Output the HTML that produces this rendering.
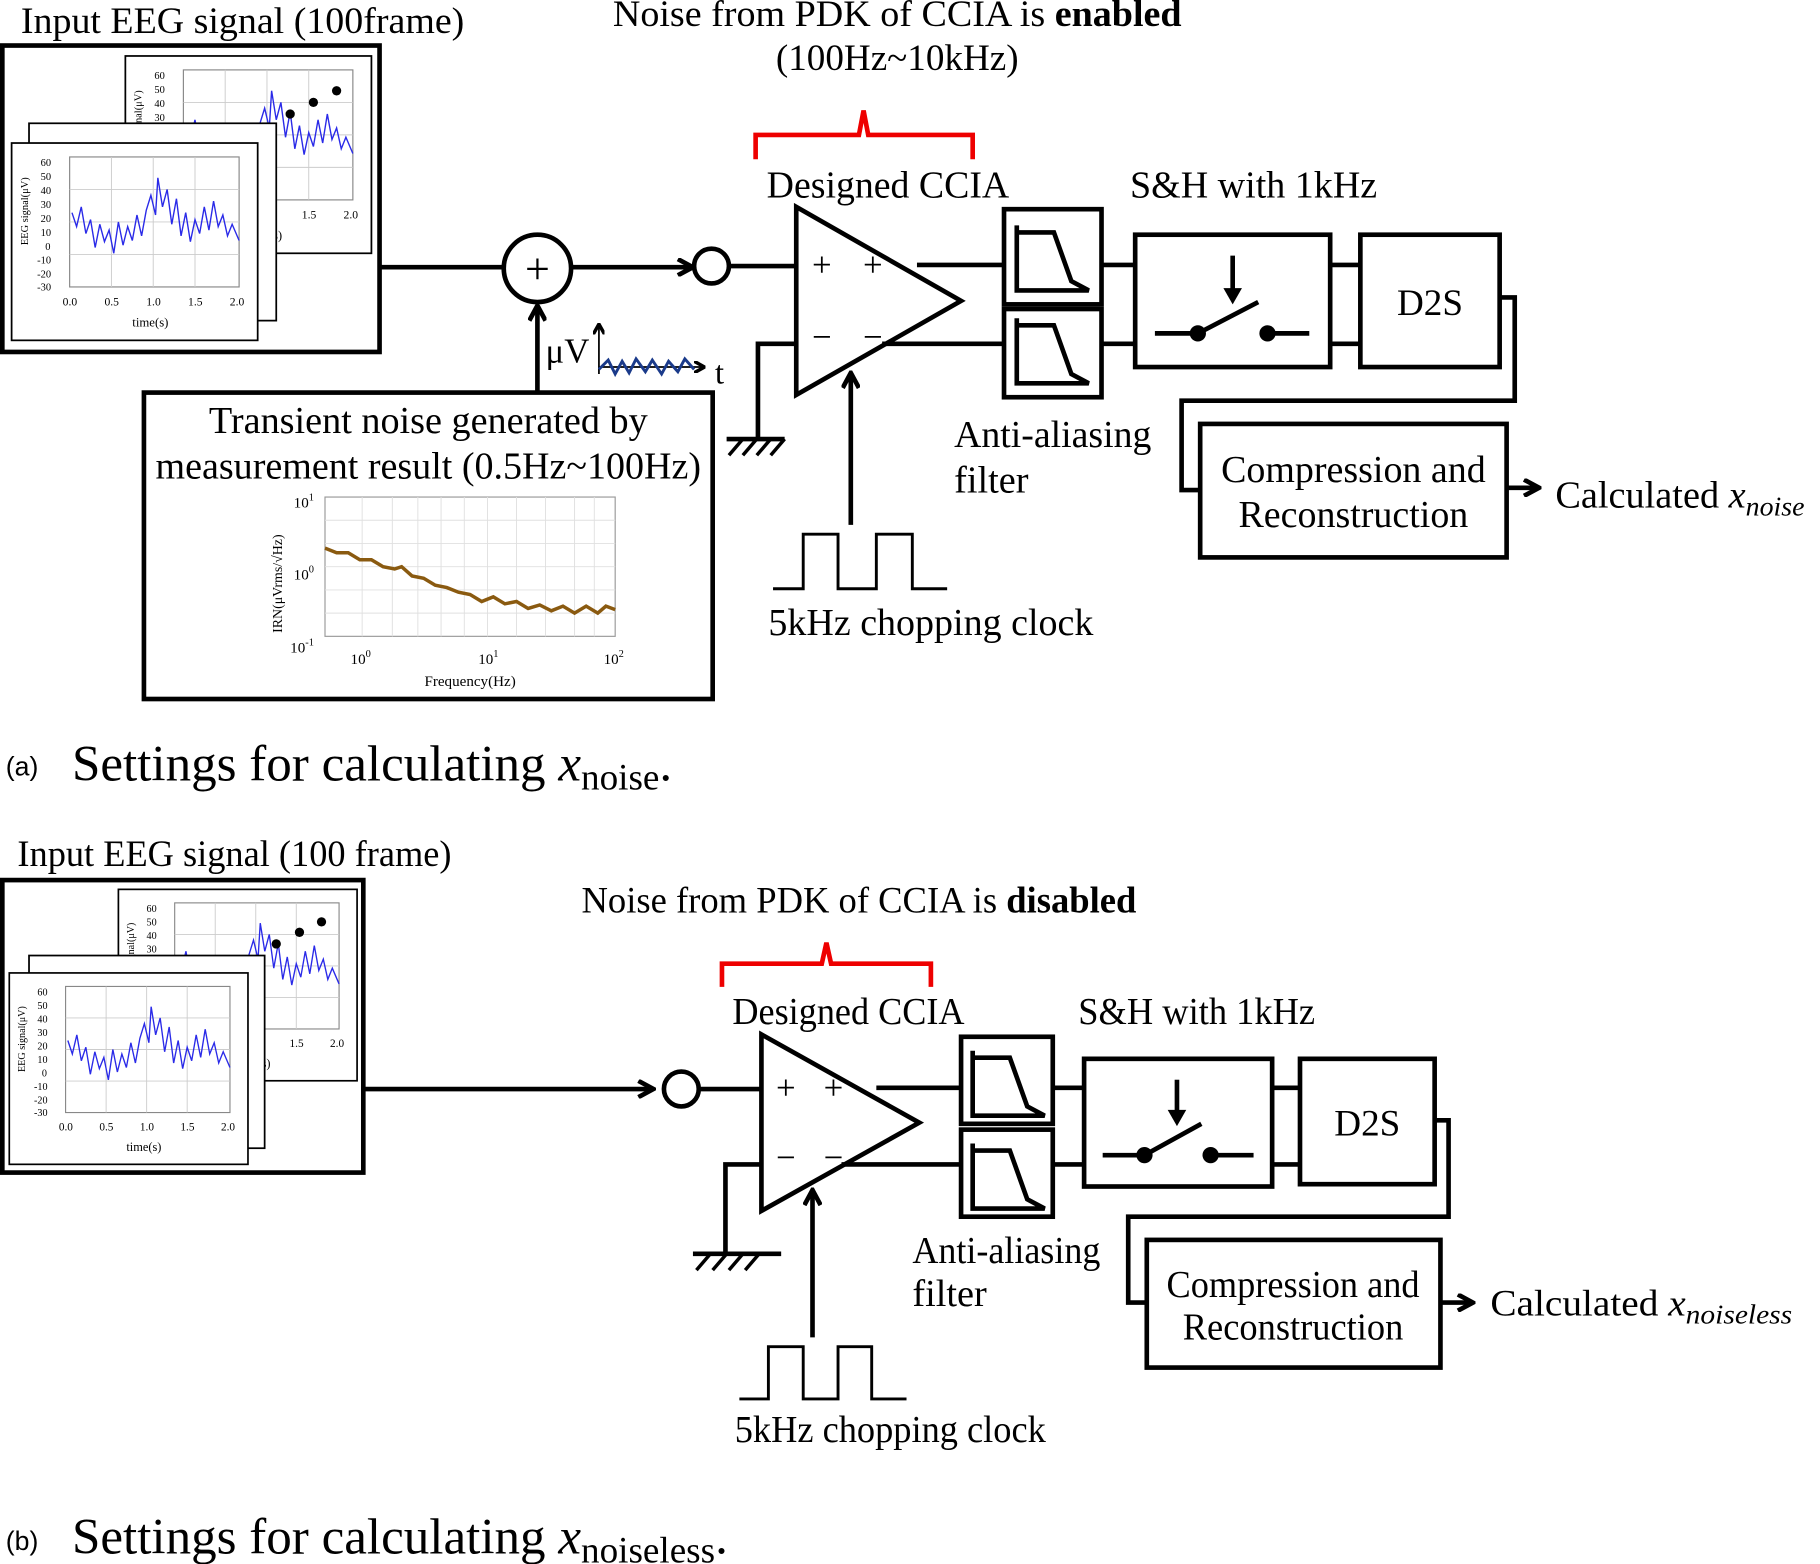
<!DOCTYPE html>
<html><head><meta charset="utf-8"><style>
html,body{margin:0;padding:0;background:#fff;}
svg{display:block;}
text{font-family:"Liberation Serif",serif;fill:#000;}
.s{font-family:"Liberation Sans",sans-serif;}
</style></head><body>
<svg width="1820" height="1564" viewBox="0 0 1568 1347" xmlns="http://www.w3.org/2000/svg">
<defs>
<marker id="ar" markerWidth="10" markerHeight="10" refX="8" refY="5" orient="auto" markerUnits="userSpaceOnUse"><path d="M0,0 L9,5 L0,10" fill="none" stroke="#000" stroke-width="3"/></marker>
<marker id="ab" markerWidth="16" markerHeight="16" refX="13" refY="8" orient="auto" markerUnits="userSpaceOnUse"><path d="M1,1 L14,8 L1,15" fill="none" stroke="#000" stroke-width="4"/></marker>
<g id="lp"><path d="M8,8 V64 H70 L55,56 L40,14 H8" fill="none" stroke="#000" stroke-width="4"/></g>
<g id="plot">
<rect x="0" y="0" width="212" height="170" fill="#fff" stroke="#000" stroke-width="1.5"/>
<rect x="50" y="12" width="146" height="112" fill="none" stroke="#888" stroke-width="1"/>
<path d="M50,40H196M50,68H196M50,96H196M86,12V124M122,12V124M158,12V124" stroke="#ccc" stroke-width="0.8"/>
<polyline fill="none" stroke="#2a2ae8" stroke-width="1.2" points="52,60 56,72 60,55 64,78 68,66 72,90 76,70 80,85 84,75 88,95 92,68 96,88 100,72 104,84 108,62 112,80 116,58 120,45 124,62 126,30 130,55 134,40 138,70 142,48 146,80 150,60 154,85 158,66 162,78 166,55 170,75 174,50 178,72 182,62 186,80 190,70 196,84"/>
<text x="6" y="80" font-size="9" transform="rotate(-90 14 80)">EEG signal(μV)</text>
<text x="25" y="20" font-size="9">60</text><text x="25" y="32" font-size="9">50</text><text x="25" y="44" font-size="9">40</text><text x="25" y="56" font-size="9">30</text><text x="25" y="68" font-size="9">20</text><text x="25" y="80" font-size="9">10</text><text x="29" y="92" font-size="9">0</text><text x="22" y="104" font-size="9">-10</text><text x="22" y="116" font-size="9">-20</text><text x="22" y="127" font-size="9">-30</text>
<text x="44" y="140" font-size="10">0.0</text><text x="80" y="140" font-size="10">0.5</text><text x="116" y="140" font-size="10">1.0</text><text x="152" y="140" font-size="10">1.5</text><text x="188" y="140" font-size="10">2.0</text>
<text x="104" y="158" font-size="11">time(s)</text>
</g>
</defs>

<!-- ===== (a) ===== -->
<text x="18" y="28" font-size="32" textLength="382" lengthAdjust="spacingAndGlyphs">Input EEG signal (100frame)</text>
<rect x="2" y="39" width="325" height="264" fill="#fff" stroke="#000" stroke-width="4"/>
<use href="#plot" x="108" y="48"/>
<circle cx="250" cy="98" r="4"/><circle cx="270" cy="88" r="4"/><circle cx="290" cy="78" r="4"/>
<rect x="25" y="106" width="213" height="170" fill="#fff" stroke="#000" stroke-width="1.5"/>
<use href="#plot" x="10" y="123"/>

<line x1="327" y1="230" x2="434" y2="230" stroke="#000" stroke-width="4"/>
<circle cx="463" cy="231" r="29" fill="#fff" stroke="#000" stroke-width="4"/>
<text x="463" y="244" font-size="38" text-anchor="middle">+</text>
<line x1="492" y1="230" x2="596" y2="230" stroke="#000" stroke-width="4" marker-end="url(#ab)"/>
<circle cx="613" cy="229" r="15" fill="#fff" stroke="#000" stroke-width="4"/>
<line x1="628" y1="229" x2="686" y2="229" stroke="#000" stroke-width="4"/>
<polygon points="686,178 686,340 828,259" fill="#fff" stroke="#000" stroke-width="4"/>
<text x="708" y="238" font-size="30" text-anchor="middle">+</text><text x="752" y="238" font-size="30" text-anchor="middle">+</text>
<text x="708" y="300" font-size="30" text-anchor="middle">−</text><text x="752" y="300" font-size="30" text-anchor="middle">−</text>
<line x1="790" y1="228" x2="866" y2="228" stroke="#000" stroke-width="4"/>
<line x1="760" y1="296" x2="866" y2="296" stroke="#000" stroke-width="4"/>
<polyline points="686,296 653,296 653,378" fill="none" stroke="#000" stroke-width="4"/>
<line x1="626" y1="378" x2="676" y2="378" stroke="#000" stroke-width="4"/>
<path d="M640,378 l-12,14 M652,378 l-12,14 M664,378 l-12,14 M676,378 l-12,14" stroke="#000" stroke-width="3"/>
<line x1="733" y1="452" x2="733" y2="322" stroke="#000" stroke-width="4" marker-end="url(#ab)"/>
<polyline points="666,507 692,507 692,460 722,460 722,507 755,507 755,460 786,460 786,507 816,507" fill="none" stroke="#000" stroke-width="2.5"/>
<rect x="865" y="180" width="84" height="82" fill="#fff" stroke="#000" stroke-width="4"/>
<rect x="865" y="266" width="84" height="76" fill="#fff" stroke="#000" stroke-width="4"/>
<use href="#lp" x="868" y="186"/><use href="#lp" x="868" y="266"/>
<line x1="949" y1="228" x2="978" y2="228" stroke="#000" stroke-width="4"/>
<line x1="949" y1="296" x2="978" y2="296" stroke="#000" stroke-width="4"/>
<rect x="978" y="202" width="168" height="114" fill="#fff" stroke="#000" stroke-width="4"/>
<line x1="995" y1="287" x2="1032" y2="287" stroke="#000" stroke-width="4"/>
<line x1="1032" y1="287" x2="1084" y2="260" stroke="#000" stroke-width="4"/>
<line x1="1092" y1="287" x2="1128" y2="287" stroke="#000" stroke-width="4"/>
<circle cx="1032" cy="287" r="7"/><circle cx="1092" cy="287" r="7"/>
<line x1="1062" y1="220" x2="1062" y2="258" stroke="#000" stroke-width="4"/>
<path d="M1054,248 L1062,262 L1070,248 Z"/>
<line x1="1146" y1="228" x2="1172" y2="228" stroke="#000" stroke-width="4"/>
<line x1="1146" y1="296" x2="1172" y2="296" stroke="#000" stroke-width="4"/>
<rect x="1172" y="202" width="120" height="114" fill="#fff" stroke="#000" stroke-width="4"/>
<text x="1232" y="271" font-size="32" text-anchor="middle">D2S</text>
<polyline points="1292,256 1305,256 1305,345 1018,345 1018,422 1034,422" fill="none" stroke="#000" stroke-width="4"/>
<rect x="1034" y="365" width="264" height="115" fill="#fff" stroke="#000" stroke-width="4"/>
<text x="1166" y="415" font-size="33" text-anchor="middle" textLength="228" lengthAdjust="spacingAndGlyphs">Compression and</text>
<text x="1166" y="454" font-size="33" text-anchor="middle" textLength="198" lengthAdjust="spacingAndGlyphs">Reconstruction</text>
<line x1="1298" y1="420" x2="1325" y2="420" stroke="#000" stroke-width="4" marker-end="url(#ab)"/>
<text x="1340" y="437" font-size="33">Calculated <tspan font-style="italic">x</tspan><tspan font-style="italic" font-size="24" dy="7">noise</tspan></text>
<path d="M651,137 V116 H740 L744,95 L748,116 H838 V137" fill="none" stroke="#e00" stroke-width="4"/>
<text x="773" y="22" font-size="32" text-anchor="middle" textLength="490" lengthAdjust="spacingAndGlyphs">Noise from PDK of CCIA is <tspan font-weight="bold">enabled</tspan></text>
<text x="773" y="60" font-size="32" text-anchor="middle">(100Hz~10kHz)</text>
<text x="765" y="170" font-size="33" text-anchor="middle" textLength="209" lengthAdjust="spacingAndGlyphs">Designed CCIA</text>
<text x="1080" y="170" font-size="33" text-anchor="middle" textLength="213" lengthAdjust="spacingAndGlyphs">S&amp;H with 1kHz</text>
<text x="822" y="385" font-size="33" textLength="170" lengthAdjust="spacingAndGlyphs">Anti-aliasing</text>
<text x="822" y="424" font-size="33">filter</text>
<text x="802" y="547" font-size="33" text-anchor="middle" textLength="280" lengthAdjust="spacingAndGlyphs">5kHz chopping clock</text>

<line x1="463" y1="338" x2="463" y2="264" stroke="#000" stroke-width="4" marker-end="url(#ab)"/>
<text x="470" y="312" font-size="30">μV</text>
<line x1="516" y1="322" x2="516" y2="280" stroke="#000" stroke-width="1.5" marker-end="url(#ar)"/>
<line x1="516" y1="316" x2="606" y2="316" stroke="#000" stroke-width="1.5" marker-end="url(#ar)"/>
<polyline points="516,318 524,310 530,322 536,311 542,321 548,309 556,320 562,310 570,322 576,311 584,320 590,309 598,318" fill="none" stroke="#1a3a8a" stroke-width="2.5"/>
<text x="616" y="330" font-size="28">t</text>
<rect x="124" y="338" width="490" height="264" fill="#fff" stroke="#000" stroke-width="4"/>
<text x="369" y="373" font-size="33" text-anchor="middle" textLength="378" lengthAdjust="spacingAndGlyphs">Transient noise generated by</text>
<text x="369" y="412" font-size="33" text-anchor="middle" textLength="470" lengthAdjust="spacingAndGlyphs">measurement result (0.5Hz~100Hz)</text>
<rect x="280" y="428" width="250" height="120" fill="#fff" stroke="#999" stroke-width="1"/>
<path d="M280,448H530M280,468H530M280,488H530M280,508H530M280,528H530M312,428V548M338,428V548M360,428V548M380,428V548M400,428V548M420,428V548M445,428V548M470,428V548M495,428V548M512,428V548" stroke="#e0e0e0" stroke-width="0.8"/>
<polyline points="280,472 290,476 300,476 310,482 320,482 330,488 340,490 346,488 355,496 365,498 375,504 385,506 395,510 405,512 415,518 425,514 435,520 445,518 455,524 465,521 475,526 485,522 495,528 505,522 515,528 522,522 530,525" fill="none" stroke="#8a5a10" stroke-width="3"/>
<text x="253" y="437" font-size="13">10<tspan font-size="9" dy="-6">1</tspan></text>
<text x="253" y="499" font-size="13">10<tspan font-size="9" dy="-6">0</tspan></text>
<text x="250" y="562" font-size="13">10<tspan font-size="9" dy="-6">-1</tspan></text>
<text x="302" y="572" font-size="13">10<tspan font-size="9" dy="-6">0</tspan></text>
<text x="412" y="572" font-size="13">10<tspan font-size="9" dy="-6">1</tspan></text>
<text x="520" y="572" font-size="13">10<tspan font-size="9" dy="-6">2</tspan></text>
<text x="405" y="591" font-size="13" text-anchor="middle">Frequency(Hz)</text>
<text x="243" y="545" font-size="12" transform="rotate(-90 243 545)">IRN(μVrms/√Hz)</text>

<text x="5" y="668" font-size="23" class="s">(a)</text>
<text x="62" y="672" font-size="44">Settings for calculating <tspan font-style="italic">x</tspan><tspan font-size="32" dy="8">noise</tspan><tspan dy="-8">.</tspan></text>

<!-- ===== (b) ===== -->
<text x="15" y="746" font-size="32" textLength="374" lengthAdjust="spacingAndGlyphs">Input EEG signal (100 frame)</text>
<rect x="2" y="758" width="311" height="252" fill="#fff" stroke="#000" stroke-width="4"/>
<use href="#plot" x="102" y="766" transform="translate(102 766) scale(0.97) translate(-102 -766)"/>
<circle cx="238" cy="813" r="4"/><circle cx="258" cy="803" r="4"/><circle cx="277" cy="794" r="4"/>
<rect x="25" y="823" width="203" height="166" fill="#fff" stroke="#000" stroke-width="1.5"/>
<g transform="translate(8 838) scale(0.97)"><use href="#plot"/></g>

<line x1="313" y1="938" x2="562" y2="938" stroke="#000" stroke-width="4" marker-end="url(#ab)"/>
<circle cx="587" cy="938" r="15" fill="#fff" stroke="#000" stroke-width="4"/>
<line x1="602" y1="938" x2="656" y2="938" stroke="#000" stroke-width="4"/>
<polygon points="656,891 656,1043 792,967" fill="#fff" stroke="#000" stroke-width="4"/>
<text x="677" y="947" font-size="30" text-anchor="middle">+</text><text x="718" y="947" font-size="30" text-anchor="middle">+</text>
<text x="677" y="1007" font-size="30" text-anchor="middle">−</text><text x="718" y="1007" font-size="30" text-anchor="middle">−</text>
<line x1="755" y1="937" x2="829" y2="937" stroke="#000" stroke-width="4"/>
<line x1="725" y1="1003" x2="829" y2="1003" stroke="#000" stroke-width="4"/>
<polyline points="656,1003 625,1003 625,1080" fill="none" stroke="#000" stroke-width="4"/>
<line x1="597" y1="1080" x2="673" y2="1080" stroke="#000" stroke-width="4"/>
<path d="M612,1080 l-12,14 M626,1080 l-12,14 M640,1080 l-12,14 M654,1080 l-12,14" stroke="#000" stroke-width="3"/>
<line x1="700" y1="1152" x2="700" y2="1026" stroke="#000" stroke-width="4" marker-end="url(#ab)"/>
<polyline points="637,1205 662,1205 662,1160 692,1160 692,1205 722,1205 722,1160 751,1160 751,1205 781,1205" fill="none" stroke="#000" stroke-width="2.5"/>
<rect x="828" y="893" width="79" height="75" fill="#fff" stroke="#000" stroke-width="4"/>
<rect x="828" y="973" width="79" height="75" fill="#fff" stroke="#000" stroke-width="4"/>
<use href="#lp" x="830" y="897"/><use href="#lp" x="830" y="977"/>
<line x1="907" y1="937" x2="934" y2="937" stroke="#000" stroke-width="4"/>
<line x1="907" y1="1003" x2="934" y2="1003" stroke="#000" stroke-width="4"/>
<rect x="934" y="912" width="162" height="110" fill="#fff" stroke="#000" stroke-width="4"/>
<line x1="950" y1="995" x2="986" y2="995" stroke="#000" stroke-width="4"/>
<line x1="986" y1="995" x2="1035" y2="968" stroke="#000" stroke-width="4"/>
<line x1="1043" y1="995" x2="1080" y2="995" stroke="#000" stroke-width="4"/>
<circle cx="986" cy="995" r="7"/><circle cx="1043" cy="995" r="7"/>
<line x1="1014" y1="930" x2="1014" y2="966" stroke="#000" stroke-width="4"/>
<path d="M1006,956 L1014,970 L1022,956 Z"/>
<line x1="1096" y1="937" x2="1120" y2="937" stroke="#000" stroke-width="4"/>
<line x1="1096" y1="1003" x2="1120" y2="1003" stroke="#000" stroke-width="4"/>
<rect x="1120" y="912" width="116" height="108" fill="#fff" stroke="#000" stroke-width="4"/>
<text x="1178" y="978" font-size="32" text-anchor="middle">D2S</text>
<polyline points="1236,965 1248,965 1248,1048 972,1048 972,1122 988,1122" fill="none" stroke="#000" stroke-width="4"/>
<rect x="988" y="1068" width="253" height="110" fill="#fff" stroke="#000" stroke-width="4"/>
<text x="1114" y="1117" font-size="33" text-anchor="middle" textLength="218" lengthAdjust="spacingAndGlyphs">Compression and</text>
<text x="1114" y="1154" font-size="33" text-anchor="middle" textLength="190" lengthAdjust="spacingAndGlyphs">Reconstruction</text>
<line x1="1241" y1="1122" x2="1268" y2="1122" stroke="#000" stroke-width="4" marker-end="url(#ab)"/>
<text x="1284" y="1133" font-size="32" textLength="260" lengthAdjust="spacingAndGlyphs">Calculated <tspan font-style="italic">x</tspan><tspan font-style="italic" font-size="24" dy="7">noiseless</tspan></text>
<path d="M622,850 V830 H708 L712,812 L716,830 H802 V850" fill="none" stroke="#e00" stroke-width="4"/>
<text x="740" y="786" font-size="32" text-anchor="middle" textLength="478" lengthAdjust="spacingAndGlyphs">Noise from PDK of CCIA is <tspan font-weight="bold">disabled</tspan></text>
<text x="731" y="882" font-size="33" text-anchor="middle" textLength="200" lengthAdjust="spacingAndGlyphs">Designed CCIA</text>
<text x="1031" y="882" font-size="33" text-anchor="middle" textLength="204" lengthAdjust="spacingAndGlyphs">S&amp;H with 1kHz</text>
<text x="786" y="1088" font-size="33" textLength="162" lengthAdjust="spacingAndGlyphs">Anti-aliasing</text>
<text x="786" y="1125" font-size="33">filter</text>
<text x="767" y="1242" font-size="33" text-anchor="middle" textLength="268" lengthAdjust="spacingAndGlyphs">5kHz chopping clock</text>

<text x="5" y="1335" font-size="23" class="s">(b)</text>
<text x="62" y="1338" font-size="44">Settings for calculating <tspan font-style="italic">x</tspan><tspan font-size="32" dy="8">noiseless</tspan><tspan dy="-8">.</tspan></text>
</svg>
</body></html>
